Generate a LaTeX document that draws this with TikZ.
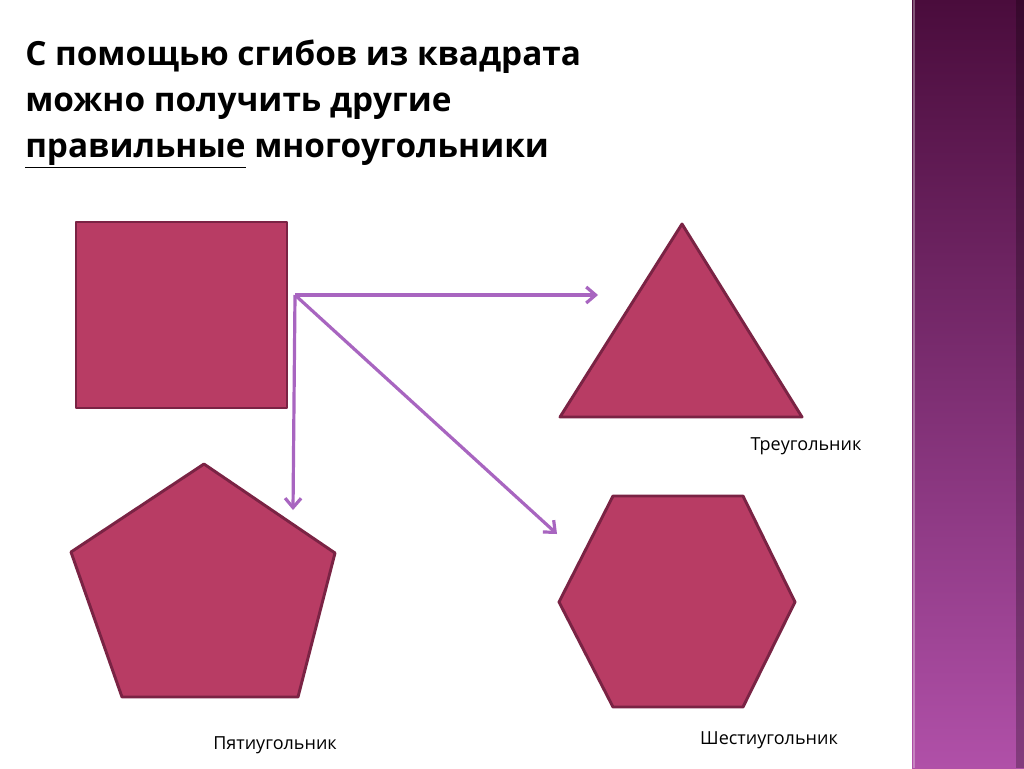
\documentclass[tikz,border=0pt]{standalone}
\usepackage{fontspec}
\setmainfont{Open Sans}
\usetikzlibrary{arrows.meta}
\definecolor{shp}{HTML}{B83C64}
\definecolor{shpb}{HTML}{7A2344}
\definecolor{arr}{HTML}{A865C0}
\definecolor{stripT}{HTML}{4A0C3C}
\definecolor{stripB}{HTML}{B050A8}
\begin{document}
\begin{tikzpicture}[x=0.75pt,y=-0.75pt,
  polyfill/.style={fill=shp,draw=shpb,line width=2.2pt,line join=round},
  conn/.style={draw=arr,line width=2.4pt,-{Straight Barb[length=7pt,width=12pt,line width=2.4pt]}},
  lbl/.style={font=\fontsize{13.5pt}{16pt}\selectfont,text=black}]
\useasboundingbox (0,0) rectangle (1024,768);
\fill[white] (0,0) rectangle (1024,768);
\shade[top color=stripT,bottom color=stripB] (912,0) rectangle (1024,768);
\fill[black,opacity=0.25] (1016,0) rectangle (1024,768);
\draw[white,opacity=0.3,line width=0.8pt] (914,0) -- (914,768);
\node[anchor=north west,align=left,font=\bfseries\fontsize{25pt}{34.5pt}\selectfont,inner sep=0pt] (title) at (25,40)
 {С помощью сгибов из квадрата\\можно получить другие\\\underline{правильные} многоугольники};
\draw[polyfill] (76,222) rectangle (287,408);
\draw[polyfill] (682,224) -- (802,417) -- (560,417) -- cycle;
\draw[polyfill] (204,464) -- (335,553) -- (298,697) -- (122,697) -- (71,552) -- cycle;
\draw[polyfill] (613,496) -- (743,496) -- (795,602) -- (743,707) -- (613,707) -- (559,602) -- cycle;
\coordinate (o) at (295,295);
\coordinate (t) at (598,295);
\coordinate (p) at (293,510);
\coordinate (h) at (557,534);
\draw[conn] (o) -- (t);
\draw[conn] (o) -- (p);
\draw[conn] (o) -- (h);
\node[lbl] (l1) at (806,446) {Треугольник};
\node[lbl] (l2) at (275,745) {Пятиугольник};
\node[lbl] (l3) at (769,740) {Шестиугольник};
\end{tikzpicture}
\end{document}
